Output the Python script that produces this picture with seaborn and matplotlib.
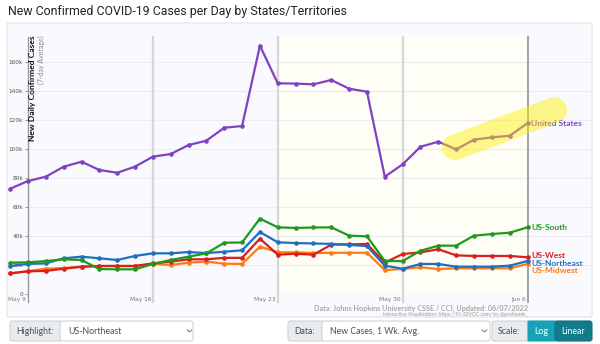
import numpy as np
import pandas as pd
import seaborn as sns
import matplotlib
matplotlib.use("Agg")
import matplotlib.pyplot as plt
from matplotlib.patches import FancyBboxPatch
from matplotlib.lines import Line2D
from matplotlib.transforms import IdentityTransform, ScaledTranslation

# ---------------- data (thousands of cases, 7-day avg) ----------------
dates = pd.date_range("2022-05-08", "2022-06-06", freq="D")
united_states = [72.5, 77.8, 80.8, 87.7, 91.1, 85.4, 83.5, 87.7, 94.6, 96.4,
                 102.6, 105.6, 114.5, 115.7, 171.0, 145.1, 144.9, 144.4, 147.4, 141.4,
                 139.3, 80.8, 89.3, 101.4, 104.9, 99.6, 106.3, 107.9, 109.0, 117.6]
us_south = [21.6, 21.8, 22.7, 23.9, 23.4, 17.2, 17.0, 17.0, 20.7, 23.4,
            25.7, 28.0, 35.3, 35.5, 51.9, 45.9, 45.5, 45.8, 45.9, 40.2,
            39.7, 22.7, 22.7, 29.8, 33.3, 33.3, 40.2, 41.3, 42.2, 45.9]
us_west = [14.2, 15.6, 15.9, 17.4, 18.8, 19.3, 19.3, 19.3, 21.1, 22.3,
           23.9, 23.9, 24.9, 24.9, 38.1, 27.1, 27.7, 27.1, 34.0, 34.2,
           34.4, 21.6, 27.5, 28.7, 30.8, 26.6, 26.2, 26.2, 26.2, 25.3]
us_northeast = [19.3, 20.7, 21.1, 24.6, 25.7, 24.6, 23.4, 26.2, 28.0, 28.0,
                28.9, 28.2, 29.1, 30.1, 42.7, 35.6, 35.1, 34.8, 34.5, 33.8,
                33.0, 19.5, 17.4, 20.7, 20.7, 18.8, 18.8, 18.8, 19.5, 22.7]
us_midwest = [14.2, 15.8, 17.4, 17.9, 18.8, 19.3, 19.3, 19.3, 20.7, 20.0,
              21.6, 22.3, 20.9, 20.7, 32.6, 28.7, 28.7, 28.2, 28.4, 28.4,
              28.4, 16.5, 17.2, 18.4, 17.2, 17.7, 17.7, 17.7, 17.7, 20.7]

regions = ["United States", "US-Midwest", "US-West", "US-Northeast", "US-South"]
series = [united_states, us_midwest, us_west, us_northeast, us_south]
colors = {"United States": "#8042c2", "US-South": "#1d9a1d", "US-West": "#d91e1e",
          "US-Northeast": "#1f6fc0", "US-Midwest": "#ff7a12"}
yticks = [0, 20000, 40000, 60000, 80000, 100000, 120000, 140000, 160000]
ytick_labels = ["0", "20k", "40k", "60k", "80k", "100k", "120k", "140k", "160k"]
xtick_dates = pd.to_datetime(["2022-05-09", "2022-05-16", "2022-05-23", "2022-05-30", "2022-06-06"])
xtick_labels = ["May 9", "May 16", "May 23", "May 30", "Jun 6"]

df = pd.concat([pd.DataFrame({"date": dates, "cases": np.array(v) * 1000, "region": r})
                for r, v in zip(regions, series)], ignore_index=True)

# ---------------- figure ----------------
W, H = 600, 344
fig = plt.figure(figsize=(W / 100, H / 100), dpi=100)
fig.patch.set_facecolor("white")
PX = IdentityTransform()


def fy(py):
    return H - py


def box(x0, y0, x1, y1, fc, ec, r=2.5, z=0):
    p = FancyBboxPatch((x0, fy(y1)), x1 - x0, y1 - y0,
                       boxstyle=f"round,pad=0,rounding_size={r}",
                       transform=PX, facecolor=fc, edgecolor=ec, lw=0.8, zorder=z)
    fig.patches.append(p)


# card
box(7, 23, 592, 317, "#f9f9fe", "#e2e2e8", r=1.5, z=-5)

ax = fig.add_axes([28 / W, 1 - 294 / H, (591 - 28) / W, (294 - 37) / H])
ax.set_facecolor("none")
ax.set_zorder(1)

d0 = pd.Timestamp("2022-05-09")
px_per_day = 17.84
ax.set_xlim(d0, d0 + pd.Timedelta(days=(591 - 28) / px_per_day))
ax.set_ylim(0, 177000)

ax.axvspan(pd.Timestamp("2022-05-23"), pd.Timestamp("2022-06-06"), color="#fefef6", zorder=0, lw=0)
for yv in yticks[1:]:
    ax.axhline(yv, color="#ebebf0", lw=0.8, zorder=0.5)

sns.lineplot(data=df, x="date", y="cases", hue="region", hue_order=regions,
             palette=colors, marker="o", markersize=3.3, markeredgewidth=0,
             linewidth=1.6, legend=False, ax=ax, zorder=3)
for ln in ax.lines:
    ln.set_clip_on(False)

ext = 8 / (294 - 37)
for d in xtick_dates[1:4]:
    ax.axvline(d, ymin=-ext, ymax=1, color="#d6d6d6", lw=1.6, zorder=1, clip_on=False)
ax.axvline(xtick_dates[4], ymin=-ext, ymax=1, color="#9a9a9a", lw=1.3, zorder=1, clip_on=False)
ax.axvline(xtick_dates[0], ymin=-ext, ymax=1, color="#9a9a9a", lw=1.0, zorder=1, clip_on=False)

for s in ax.spines.values():
    s.set_visible(False)

ax.set_yticks(yticks)
ax.set_yticklabels(ytick_labels)
ax.tick_params(axis="y", length=2.5, width=0.6, color="#888888", labelsize=4.2,
               labelcolor="#555555", pad=1)
ax.set_xticks(xtick_dates)
ax.set_xticklabels(xtick_labels)
ax.tick_params(axis="x", length=0, labelsize=4.2, labelcolor="#777777", pad=2)
for lab in ax.get_xticklabels():
    lab.set_ha("right")
    lab.set_transform(lab.get_transform() + ScaledTranslation(-2 / 100, 0, fig.dpi_scale_trans))
ax.set_xlabel("")
ax.set_ylabel("")

# end labels (small vertical nudges in pixels to separate crowded labels)
label_nudge = {"United States": 0, "US-South": 0, "US-West": 1.3, "US-Northeast": -2.3, "US-Midwest": -7}
for r, v in zip(regions, series):
    ax.annotate(r, xy=(dates[-1], v[-1] * 1000), xytext=(2.5, label_nudge[r] * 0.72),
                textcoords="offset points", va="center", ha="left",
                fontsize=6.0, fontweight="bold", color=colors[r], family="Lato",
                annotation_clip=False, zorder=4)

# highlight band over the last week of United States
ax.plot([pd.Timestamp("2022-06-01 22:00"), pd.Timestamp("2022-06-07 12:00")], [101000, 126700],
        color="#fff000", alpha=0.45, lw=18.5, solid_capstyle="round", zorder=5, clip_on=False)

# titles / axis label
fig.text(8 / W, 1 - 12 / H, "New Confirmed COVID-19 Cases per Day by States/Territories",
         fontsize=8.9, family="Roboto", va="center", ha="left", color="#222222")
fig.text(33 / W, 1 - 35 / H, "New Daily Confirmed Cases", rotation=90, ha="center", va="top",
         fontsize=6.1, fontweight="bold", family="Lato", color="#111111", zorder=6)
fig.text(41 / W, 1 - 35 / H, "(7-day Average)", rotation=90, ha="center", va="top",
         fontsize=5.0, family="Lato", color="#888888", zorder=6)

fig.text(528 / W, 1 - 308.5 / H, "Data: Johns Hopkins University CSSE / CCI; Updated: 06/07/2022",
         ha="right", va="center", fontsize=5.2, fontweight="bold", family="Lato", color="#a8a8a8")
fig.text(528 / W, 1 - 314.5 / H, "Interactive Visualization: https://91-DIVOC.com/ by @profwade_",
         ha="right", va="center", fontsize=3.6, family="Lato", color="#999999")

# ---------------- bottom controls ----------------
ctl_font = dict(fontsize=6.3, family="Lato", va="center", transform=PX)
ymid = fy(331)
box(10, 321, 62, 341, "#e9ecef", "#ced4da")
box(60, 321, 193, 341, "white", "#ced4da")
fig.text(16, ymid, "Highlight:", color="#495057", **ctl_font)
fig.text(68, ymid, "US-Northeast", color="#495057", **ctl_font)

box(288, 321, 324, 341, "#e9ecef", "#ced4da")
box(322, 321, 490, 341, "white", "#ced4da")
fig.text(294, ymid, "Data:", color="#495057", **ctl_font)
fig.text(330, ymid, "New Cases, 1 Wk. Avg.", color="#495057", **ctl_font)

for cx in (189.5, 484.5):
    fig.lines.append(Line2D([cx - 2.3, cx, cx + 2.3], [fy(329.8), fy(332), fy(329.8)],
                            transform=PX, color="#777777", lw=0.7))

box(492, 321, 530, 341, "#e9ecef", "#ced4da")
fig.text(498, ymid, "Scale:", color="#495057", **ctl_font)
box(528, 321, 556, 341, "#17a2b8", "#17a2b8", r=1)
box(555, 321, 592, 341, "#117a8b", "#10707f")
fig.text(541.5, ymid, "Log", color="white", ha="center", fontsize=6.3, family="Lato",
         va="center", transform=PX)
fig.text(573.5, ymid, "Linear", color="white", ha="center", fontsize=6.3, family="Lato",
         va="center", transform=PX)

fig.savefig("out.png", dpi=100)
